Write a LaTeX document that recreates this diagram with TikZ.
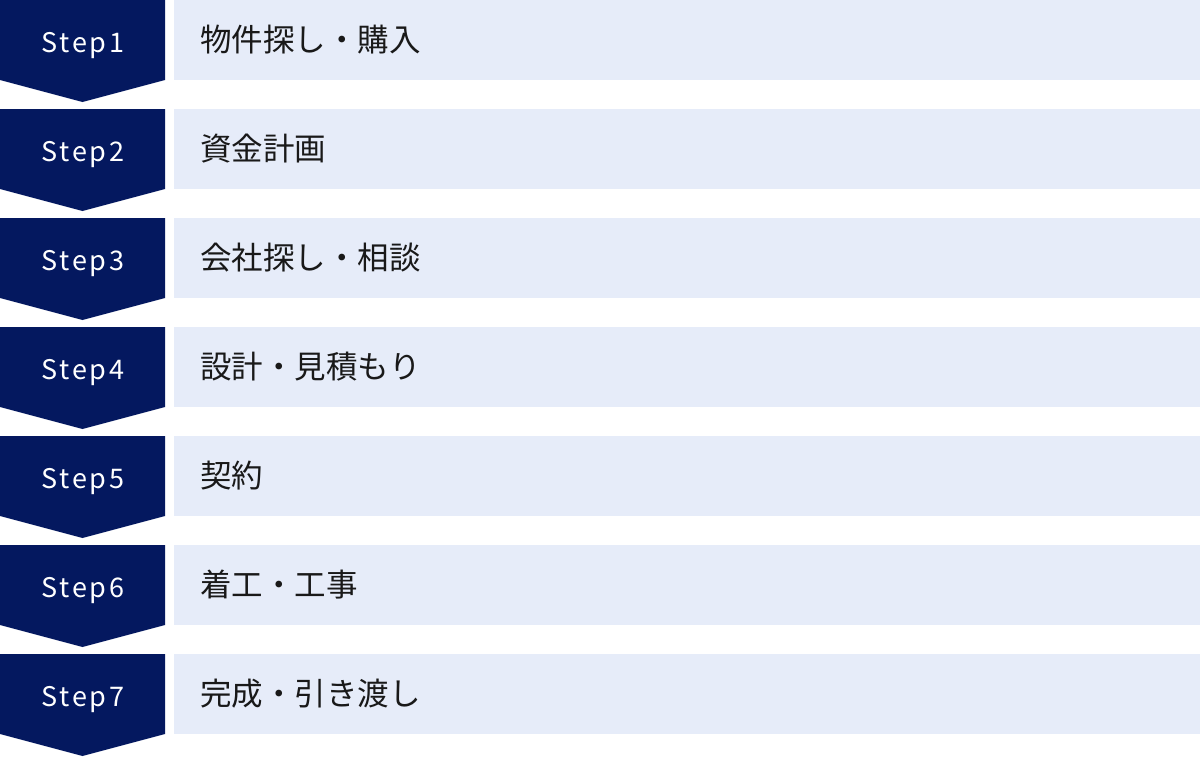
\documentclass[tikz,border=0pt]{standalone}
\usepackage{fontspec}
\newfontfamily\jp{Noto Sans CJK JP}
\newfontfamily\stepfont[LetterSpace=10]{Noto Sans CJK JP}
\definecolor{navy}{HTML}{04185F}
\definecolor{lightbg}{HTML}{E6ECF9}
\tikzset{
  stepshape/.style={fill=navy, draw=none},
  stepbox/.style={fill=lightbg, draw=none},
  steplabel/.style={text=white, font=\stepfont\fontsize{27}{27}\selectfont, inner sep=0pt, anchor=base},
  tasklabel/.style={text=black!90, font=\jp\fontsize{31.5}{31.5}\selectfont, inner sep=0pt, anchor=west},
}
\begin{document}
\begin{tikzpicture}[x=1pt,y=-1pt]
\useasboundingbox (0,0) rectangle (1200,756);
\foreach \i/\txt in {1/物件探し・購入,2/資金計画,3/会社探し・相談,4/設計・見積もり,5/契約,6/着工・工事,7/完成・引き渡し}{
  \pgfmathsetmacro{\t}{(\i-1)*109}
  \fill[stepshape] (0,\t) -- (165,\t) -- (165,\t+80) -- (82.5,\t+102) -- (0,\t+80) -- cycle;
  \fill[stepbox] (174,\t) rectangle (1200,\t+80);
  \node[steplabel] (s\i) at (83,\t+52) {Step\i};
  \node[tasklabel] (t\i) at (200,\t+40) {\txt};
}
\end{tikzpicture}
\end{document}
